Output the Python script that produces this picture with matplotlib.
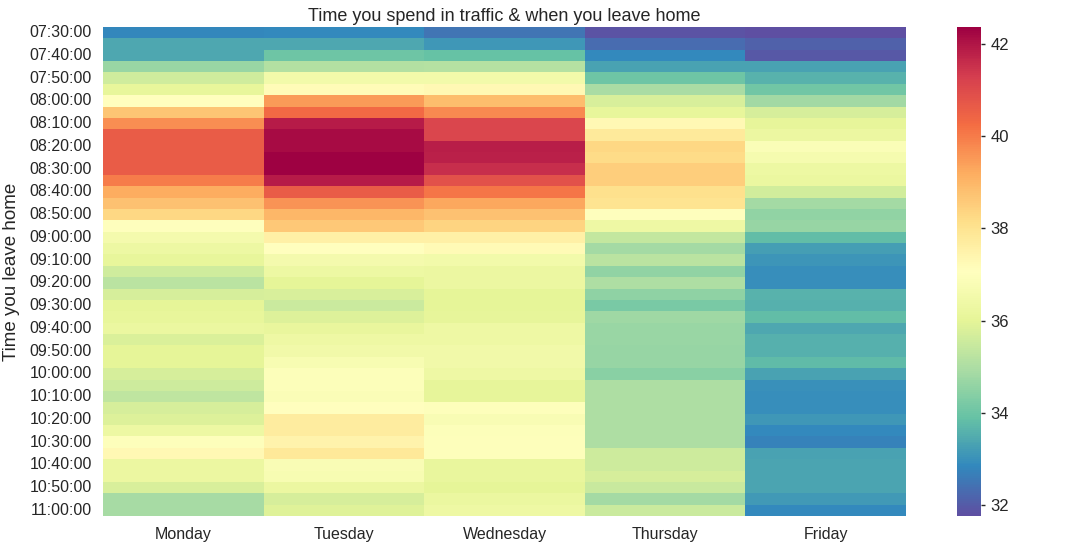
import numpy as np
import pandas as pd
import matplotlib
matplotlib.use("Agg")
import matplotlib.pyplot as plt
import seaborn as sns

days = ["Monday", "Tuesday", "Wednesday", "Thursday", "Friday"]
times = ["07:30:00", "07:35:00", "07:40:00", "07:45:00", "07:50:00", "07:55:00",
         "08:00:00", "08:05:00", "08:10:00", "08:15:00", "08:20:00", "08:25:00",
         "08:30:00", "08:35:00", "08:40:00", "08:45:00", "08:50:00", "08:55:00",
         "09:00:00", "09:05:00", "09:10:00", "09:15:00", "09:20:00", "09:25:00",
         "09:30:00", "09:35:00", "09:40:00", "09:45:00", "09:50:00", "09:55:00",
         "10:00:00", "10:05:00", "10:10:00", "10:15:00", "10:20:00", "10:25:00",
         "10:30:00", "10:35:00", "10:40:00", "10:45:00", "10:50:00", "10:55:00",
         "11:00:00"]

monday = [32.8, 33.4, 33.4, 34.7, 35.6, 36.1, 37.1, 38.7, 39.7, 40.6, 40.6, 40.6,
          40.6, 40.0, 39.2, 38.8, 38.3, 37.0, 36.6, 36.3, 36.1, 35.6, 35.2, 35.7,
          36.0, 36.1, 36.2, 35.8, 36.0, 36.0, 35.7, 35.55, 35.3, 35.7, 35.85, 36.3,
          36.95, 37.3, 36.25, 36.25, 35.75, 34.9, 34.9]
tuesday = [32.85, 33.4, 34.0, 35.1, 36.5, 37.2, 39.5, 40.3, 41.9, 42.2, 42.2, 42.37,
           42.37, 41.9, 40.6, 39.6, 39.0, 38.6, 37.6, 37.1, 36.6, 36.3, 36.0, 35.75,
           35.5, 35.85, 36.15, 36.35, 36.45, 36.7, 36.9, 36.9, 36.85, 37.1, 37.7, 37.7,
           37.45, 37.85, 36.8, 36.7, 36.25, 35.7, 35.9]
wednesday = [32.5, 33.1, 33.9, 35.15, 36.5, 37.3, 38.85, 39.8, 41.1, 41.1, 41.85, 41.8,
             41.55, 40.85, 40.1, 39.3, 38.8, 38.35, 37.6, 37.25, 36.5, 36.25, 36.25, 36.0,
             36.0, 36.05, 36.35, 36.35, 36.45, 36.45, 36.35, 36.05, 36.05, 36.95, 36.75, 36.9,
             36.95, 36.95, 36.15, 36.15, 36.0, 36.2, 36.35]
thursday = [31.85, 32.3, 32.85, 33.3, 34.0, 34.95, 35.75, 36.1, 37.3, 37.8, 38.3, 38.2,
            38.5, 38.5, 38.1, 38.0, 37.0, 36.35, 35.4, 34.85, 35.2, 34.55, 35.0, 34.5,
            34.2, 34.75, 34.7, 34.7, 34.65, 34.65, 34.45, 35.0, 35.0, 35.0, 35.0, 35.0,
            35.0, 35.55, 35.55, 35.7, 35.45, 34.85, 35.5]
friday = [31.8, 32.1, 31.95, 33.3, 33.6, 34.05, 34.8, 35.7, 36.05, 36.25, 36.85, 36.65,
          36.3, 36.2, 35.65, 34.85, 34.55, 34.65, 33.8, 33.25, 33.05, 32.95, 32.95, 33.6,
          33.55, 33.8, 33.4, 33.55, 33.55, 33.75, 33.3, 33.0, 32.95, 32.95, 33.1, 32.85,
          32.75, 33.3, 33.35, 33.35, 33.35, 33.15, 32.85]

df = pd.DataFrame({"Monday": monday, "Tuesday": tuesday, "Wednesday": wednesday,
                   "Thursday": thursday, "Friday": friday}, index=times)

sns.set_theme(style="white")
plt.rcParams['font.family'] = ['Liberation Sans', 'DejaVu Sans']

fig = plt.figure(figsize=(10.65, 5.48), dpi=100)
ax = fig.add_axes([103/1065, 1 - 516/548, (906-103)/1065, (516-27)/548])
cax = fig.add_axes([957/1065, 1 - 516/548, (981-957)/1065, (516-27)/548])

sns.heatmap(df, ax=ax, cbar_ax=cax, cmap="Spectral_r", vmin=31.76, vmax=42.37,
            xticklabels=days, yticklabels=2)

ax.set_title("Time you spend in traffic & when you leave home", fontsize=13,
             color="#262626", pad=4)
ax.set_ylabel("Time you leave home", fontsize=13.5, color="#262626", labelpad=7)
ax.set_xlabel("")
ax.tick_params(axis="y", labelsize=11.5, colors="#262626", length=0, pad=8)
ax.tick_params(axis="x", labelsize=11.5, colors="#262626", length=0, pad=8)
plt.setp(ax.get_yticklabels(), rotation=0)
plt.setp(ax.get_xticklabels(), rotation=0)
cax.tick_params(labelsize=12, colors="#262626", length=3, width=1, pad=4)
cax.set_yticks([32, 34, 36, 38, 40, 42])

fig.savefig("out.png", dpi=100)
